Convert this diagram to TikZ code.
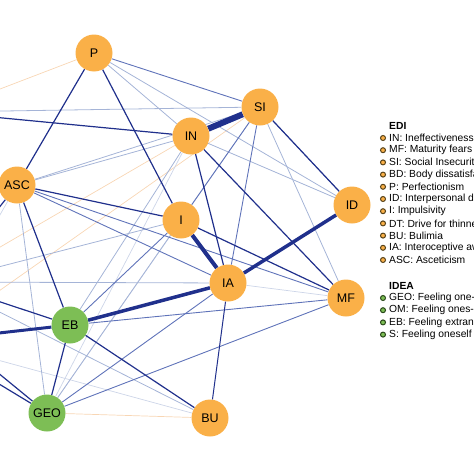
\documentclass[tikz,border=0pt]{standalone}
\usepackage{fontspec}
\setmainfont{Liberation Sans}
\usetikzlibrary{backgrounds}

\definecolor{ediorange}{RGB}{250,176,72}
\definecolor{ideagreen}{RGB}{125,190,85}
\definecolor{edgedark}{RGB}{32,48,140}
\definecolor{edgemid}{RGB}{95,115,185}
\definecolor{edgelight}{RGB}{165,180,215}
\definecolor{edgefaint}{RGB}{205,213,232}
\definecolor{edgeneg}{RGB}{248,214,180}
\definecolor{dotring}{RGB}{85,65,25}

\tikzset{
  edinode/.style={circle, fill=ediorange, minimum size=37pt, inner sep=0pt,
                  font=\fontsize{12.5}{14}\selectfont},
  ideanode/.style={edinode, fill=ideagreen},
  strongedge/.style={draw=edgedark, line width=1.2pt},
  midedge/.style={draw=edgemid, line width=0.9pt},
  lightedge/.style={draw=edgelight, line width=0.8pt},
  faintedge/.style={draw=edgefaint, line width=0.7pt},
  negedge/.style={draw=edgeneg, line width=0.7pt},
  legdot/.style={circle, draw=dotring, line width=1pt, fill=ediorange, minimum size=5pt, inner sep=0pt},
  legtext/.style={anchor=west, inner sep=0pt, font=\fontsize{10.3}{12}\selectfont}
}

\begin{document}
\begin{tikzpicture}[x=1pt, y=-1pt]
\useasboundingbox (0,0) rectangle (474,474);
\clip (0,0) rectangle (474,474);

% nodes in view
\node[edinode] (P)   at (94,53)   {P};
\node[edinode] (SI)  at (260,107) {SI};
\node[edinode] (IN)  at (191,136) {IN};
\node[edinode] (ASC) at (17,185)  {ASC};
\node[edinode] (I)   at (181,220) {I};
\node[edinode] (ID)  at (352,205) {ID};
\node[edinode] (IA)  at (228,283) {IA};
\node[edinode] (MF)  at (346,298) {MF};
\node[ideanode] (EB)  at (70,325)  {EB};
\node[ideanode] (GEO) at (47,413)  {GEO};
\node[edinode] (BU)  at (210,418) {BU};

% nodes outside the frame
\coordinate (DT) at (-60,112);
\coordinate (S)  at (-60,282);
\coordinate (BD) at (-72,341);
\coordinate (OM) at (-25,354);

\begin{pgfonlayer}{background}
  % weak edges
  \draw[negedge] (DT) -- (P);
  \draw[negedge] (IN) -- (S);
  \draw[negedge] (SI) -- (BD);
  \draw[negedge] (GEO) -- (BU);
  \draw[faintedge] (IA) -- (MF);
  \draw[faintedge] (ASC) -- (BD);
  \draw[faintedge] (IN) -- (GEO);
  \draw[faintedge] (SI) -- (GEO);
  \draw[faintedge] (BU) -- (BD);
  \draw[lightedge] (P) -- (ID);
  \draw[lightedge] (P) -- (IN);
  \draw[lightedge] (ASC) -- (IN);
  \draw[lightedge] (ASC) -- (SI);
  \draw[lightedge] (ASC) -- (GEO);
  \draw[lightedge] (IN) -- (ID);
  \draw[lightedge] (IN) -- (EB);
  \draw[lightedge] (SI) -- (MF);
  \draw[lightedge] (SI) -- (ID);
  \draw[lightedge] (I) -- (GEO);
  \draw[lightedge] (I) -- (S);
  \draw[lightedge] (IA) -- (S);
  \draw[lightedge] (BU) -- (S);
  \draw[lightedge] (DT) -- (SI);
  % medium edges
  \draw[midedge] (P) -- (SI);
  \draw[midedge] (ASC) -- (MF);
  \draw[midedge] (ASC) -- (IA);
  \draw[midedge] (SI) -- (IA);
  \draw[midedge] (SI) -- (I);
  \draw[midedge] (IA) -- (GEO);
  \draw[midedge] (MF) -- (EB);
  \draw[midedge] (MF) -- (GEO);
  \draw[midedge] (I) -- (EB);
  % strong edges
  \draw[strongedge] (P) -- (ASC);
  \draw[strongedge] (P) -- (I);
  \draw[strongedge] (ASC) -- (I);
  \draw[strongedge] (ASC) -- (EB);
  \draw[strongedge] (ASC) -- (S);
  \draw[strongedge] (DT) -- (IN);
  \draw[strongedge] (IN) -- (IA);
  \draw[strongedge] (IN) -- (MF);
  \draw[strongedge] (SI) -- (ID);
  \draw[strongedge] (I) -- (MF);
  \draw[strongedge, line width=1pt] (IA) -- (BU);
  \draw[strongedge] (EB) -- (BU);
  \draw[strongedge] (EB) -- (GEO);
  \draw[strongedge] (EB) -- (S);
  \draw[strongedge] (GEO) -- (BD);
  \draw[strongedge] (GEO) -- (OM);
  % thick edges
  \draw[strongedge, line width=3pt] (EB) -- (BD);
  \draw[strongedge, line width=3.5pt] (IA) -- (EB);
  \draw[strongedge, line width=3.5pt] (IA) -- (ID);
  \draw[strongedge, line width=4pt] (I) -- (IA);
  \draw[strongedge, line width=6pt] (IN) -- (SI);
\end{pgfonlayer}

% legend
\node[legtext, font=\fontsize{10.3}{12}\selectfont\bfseries] (edihead) at (389,126) {EDI};
\foreach \lab [count=\k from 0] in {IN: Ineffectiveness, MF: Maturity fears,
    SI: Social Insecurity, BD: Body dissatisfaction, P: Perfectionism,
    ID: Interpersonal distrust, I: Impulsivity, DT: Drive for thinness,
    BU: Bulimia, IA: Interoceptive awareness, ASC: Asceticism}{
  \node[legdot] (edidot\k) at (383,138+12.2*\k) {};
  \node[legtext] (edilab\k) at (389,138+12.2*\k) {\lab};
}
\node[legtext, font=\fontsize{10.3}{12}\selectfont\bfseries] (ideahead) at (389,286) {IDEA};
\foreach \lab [count=\k from 0] in {GEO: Feeling one-, OM: Feeling ones-,
    EB: Feeling extran, S: Feeling oneself}{
  \node[legdot, fill=ideagreen, draw={rgb,255:red,40;green,70;blue,25}] (ideadot\k) at (383,298+12.2*\k) {};
  \node[legtext] (idealab\k) at (389,298+12.2*\k) {\lab};
}
\end{tikzpicture}
\end{document}
